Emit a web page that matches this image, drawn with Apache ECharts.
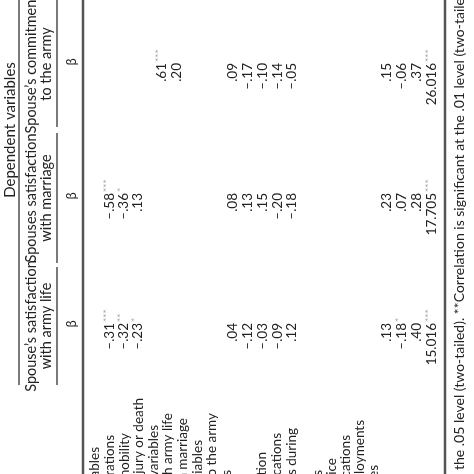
<!DOCTYPE html>
<html>
<head>
<meta charset="utf-8">
<script src="https://cdn.jsdelivr.net/npm/echarts@6/dist/echarts.min.js"></script>
<style>
  html, body { margin: 0; padding: 0; background: #fff; }
  #chart { width: 474px; height: 474px; }
</style>
</head>
<body>
<div id="chart"></div>
<script>
// table is printed sideways (rotated 90deg), so everything is drawn in an upright group
const columnTitles = [
  ['Spouse\u2019s satisfaction', 'with army life'],
  ['Spouses satisfaction', 'with marriage'],
  ['Spouse\u2019s commitment', 'to the army']
];

const rowLabels = [
  'Stressor variables',
  'Family separations',
  'Geographic mobility',
  'Risk of injury or death',
  'Mediating variables',
  'Satisfaction with army life',
  'Satisfaction with marriage',
  'Outcome variables',
  'Commitment to the army',
  'Controls'
];
const rowLabels2 = ['Education', 'Number of relocations', 'Number of deployments during'];
const rowLabels3 = ['Years', 'Years of service', 'Number of relocations', 'Number of deployments', 'Sources'];

const armyLife = [-.31, -.32, -.23, null, null, .04, -.12, -.03, -.09, .12, .13, -.18, .40];
const marriage = [-.58, -.36, .13, null, null, .08, .13, .15, -.20, -.18, .23, .07, .28];
const commitment = [null, null, null, .61, .20, .09, -.17, -.10, -.14, -.05, .15, -.06, .37];

const armyLifeSig = ['***', '**', '*', '', '', '', '', '', '', '', '', '*', ''];
const marriageSig = ['***', '*', '', '', '', '', '', '', '', '', '', '', ''];
const commitmentSig = ['', '', '', '***', '', '', '', '', '', '', '', '', ''];

const fStats = [15.016, 17.705, 26.016];
const fSig = ['***', '***', '***'];

const footnote = 'the .05 level (two-tailed). **Correlation is significant at the .01 level (two-tailed). ***Correlation is significant at the .001 level (two-tailed).';

const chart = echarts.init(document.getElementById('chart'));

const FONT = 'Lato, "DejaVu Sans", sans-serif';
const els = [];

function txt(u, v, s, align, size, fill) {
  els.push({
    type: 'text', x: u, y: v,
    style: {
      text: s, fill: fill || '#222', font: (size || 12) + 'px ' + FONT,
      textAlign: align || 'left', textVerticalAlign: 'middle'
    }
  });
}
function hline(u1, u2, v, w, color) {
  els.push({
    type: 'line', shape: { x1: u1, y1: v, x2: u2, y2: v },
    style: { stroke: color || '#333', lineWidth: w || 1 }
  });
}
function fmt(x, d) {
  const s = Math.abs(x).toFixed(d).replace(/^0/, '');
  return (x < 0 ? '\u2013' : '') + s;
}

const colCenter = [148, 276, 410];
const colRight = [151, 281, 411];
const colSpan = [[89, 207], [211, 341], [347, 474]];

// header
txt(344, 10, 'Dependent variables', 'center', 15);
hline(89, 480, 19, 1.3);
columnTitles.forEach((t, i) => {
  txt(colCenter[i], 31, t[0], 'center', 14.5);
  txt(colCenter[i], 46, t[1], 'center', 14.5);
  hline(colSpan[i][0], colSpan[i][1], 57, 1.3);
  txt(colCenter[i] + 2, 72, '\u03b2', 'center', 13);
});
hline(-10, 480, 83, 2.5, '#555');

// row labels (left part is cut off by the page edge)
const labelEnds = [27, 39, 41, 76, 49, 61, 56, 34, 61, 4];
rowLabels.forEach((l, i) => txt(labelEnds[i], 95 + i * 14.6, l, 'right', 13.5));
const labelEnds2 = [22, 41, 46];
rowLabels2.forEach((l, i) => txt(labelEnds2[i], 262 + i * 15, l, 'right', 13.5));
const labelEnds3 = [4, 16, 39, 54, 9];
rowLabels3.forEach((l, i) => txt(labelEnds3[i], 318 + i * 14, l, 'right', 13.5));

// value rows: blocks A (3 rows), B (2), C (5), D (3)
function rowV(k) {
  if (k < 3) return 110 + k * 14;
  if (k < 5) return 162 + (k - 3) * 15;
  if (k < 10) return 233 + (k - 5) * 14.75;
  return 387 + (k - 10) * 14.6;
}
function cell(col, v, s, sig) {
  txt(colRight[col], v, s, 'right', 13.5);
  if (sig) txt(colRight[col] + 1, v - 3, sig, 'left', 10, '#999');
}
[armyLife, marriage, commitment].forEach((vals, c) => {
  const sig = [armyLifeSig, marriageSig, commitmentSig][c];
  vals.forEach((x, k) => { if (x !== null) cell(c, rowV(k), fmt(x, 2), sig[k]); });
});
fStats.forEach((f, c) => cell(c, 432, f.toFixed(3), fSig[c]));

hline(-10, 480, 445, 2.5, '#555');
txt(4, 459, footnote, 'left', 14);

chart.setOption({
  animation: false,
  graphic: [{
    type: 'group', x: 0, y: 474, rotation: Math.PI / 2,
    children: els
  }]
});
</script>
</body>
</html>
